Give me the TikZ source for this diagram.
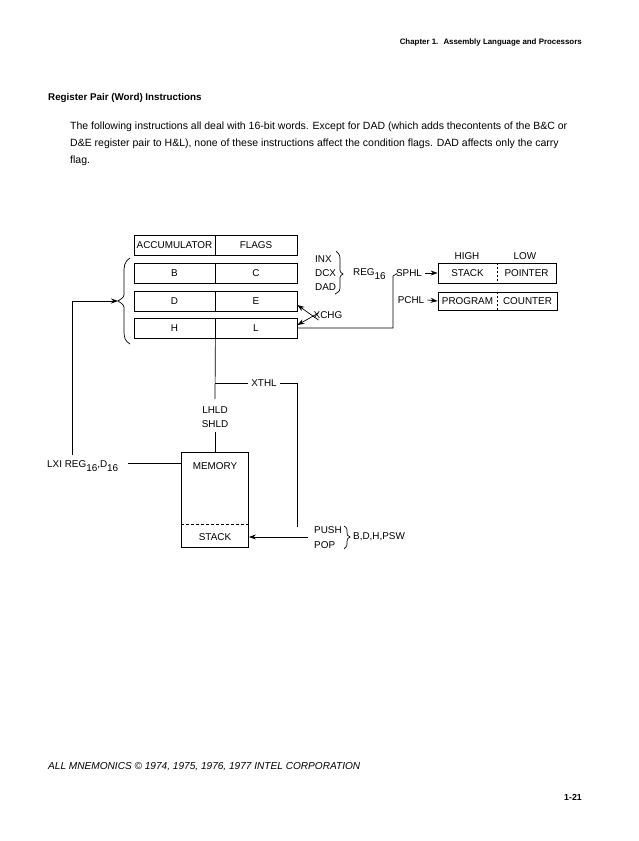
\documentclass[tikz,border=0pt]{standalone}
\usepackage{fontspec}
\setmainfont{Liberation Sans}
\usetikzlibrary{arrows.meta}
\begin{document}
\begin{tikzpicture}[x=1pt,y=-1pt,
  base/.style={inner sep=0pt,font=\fontsize{9.9}{11}\selectfont},
  lbl/.style={base},
  cell/.style={base,draw,line width=0.8pt,minimum height=20pt},
  wire/.style={line width=0.7pt},
  arr/.style={wire,-{Stealth[length=7pt,width=5pt]}},
  para/.style={inner sep=0pt,anchor=west,font=\fontsize{10.5}{12}\selectfont}]
\fill[white] (0,0) rectangle (638,841);
\useasboundingbox (0,0) rectangle (638,841);
% page text
\node[inner sep=0pt,anchor=east,font=\fontsize{7.9}{9}\selectfont\bfseries] (hdr) at (582,42) {Chapter 1. \ Assembly Language and Processors};
\node[inner sep=0pt,anchor=west,font=\fontsize{9.8}{11}\selectfont\bfseries] (ttl) at (48,98) {Register Pair (Word) Instructions};
\node[para] (p1) at (70,127) {The following instructions all deal with 16-bit words. Except for DAD (which adds thecontents of the B\&C or};
\node[para] (p2) at (70,144) {D\&E register pair to H\&L), none of these instructions affect the condition flags. DAD affects only the carry};
\node[para] (p3) at (70,161) {flag.};
\node[inner sep=0pt,anchor=west,font=\fontsize{10.1}{12}\selectfont\itshape] (ftr) at (48,767) {ALL MNEMONICS \textcopyright\ 1974, 1975, 1976, 1977 INTEL CORPORATION};
\node[inner sep=0pt,anchor=east,font=\fontsize{8.8}{10}\selectfont\bfseries] (pg) at (582,797) {1-21};
% register file
\node[cell,minimum width=81pt] (acc) at (174.5,245) {ACCUMULATOR};
\node[cell,minimum width=82pt] (flg) at (256,245) {FLAGS};
\node[cell,minimum width=81pt] (b) at (174.5,273) {B};
\node[cell,minimum width=82pt] (c) at (256,273) {C};
\node[cell,minimum width=81pt] (d) at (174.5,301) {D};
\node[cell,minimum width=82pt] (e) at (256,301) {E};
\node[cell,minimum width=81pt] (h) at (174.5,328) {H};
\node[cell,minimum width=82pt] (l) at (256,328) {L};
% left brace
\draw[wire] (130,258) .. controls (124,262) and (124,266) .. (124,274) -- (124,292) .. controls (124,297) .. (118,301) .. controls (124,305) .. (124,310) -- (124,330) .. controls (124,338) and (125,341) .. (130,344);
\coordinate (bt) at (118,301);
\coordinate (lv) at (72,455);
\draw[arr] (lv) -- (72,301) -- (bt);
% INX DCX DAD
\node[lbl,anchor=west] (inx) at (315,259) {INX};
\node[lbl,anchor=west] (dcx) at (315,273) {DCX};
\node[lbl,anchor=west] (dad) at (315,287) {DAD};
\draw[wire] (336,251) .. controls (340,255) .. (340,262) -- (340,268) .. controls (340,272) .. (343,274) .. controls (340,276) .. (340,280) -- (340,285) .. controls (340,291) .. (335,294);
\node[lbl,anchor=west] (reg) at (353,274) {REG\raisebox{-3.5pt}{16}};
% XCHG
\node[lbl] (xchg) at (328,315) {XCHG};
\draw[arr] ([shift={(5,5)}]xchg.west) -- ([yshift=-4pt]e.east);
\draw[arr] ([shift={(5,-2)}]xchg.west) -- ([yshift=3pt]l.east);
% SPHL / PCHL
\node[lbl] (sphl) at (409,273) {SPHL};
\node[lbl] (pchl) at (411,300) {PCHL};
\draw[wire] (l.east) -- (393,328) -- (393,276) -- (397,273.5);
\node[draw,line width=0.8pt,minimum width=118pt,minimum height=20pt,inner sep=0pt] (spbox) at (497,273) {};
\draw[wire,dashed,dash pattern=on 2.5pt off 1.5pt] (spbox.north) -- (spbox.south);
\node[lbl] (stk) at (467.5,273) {STACK};
\node[lbl] (ptr) at (526.5,273) {POINTER};
\node[draw,line width=0.8pt,minimum width=119pt,minimum height=18pt,inner sep=0pt] (pcbox) at (497.5,301) {};
\draw[wire,dashed,dash pattern=on 2.5pt off 1.5pt] (pcbox.north) -- (pcbox.south);
\node[lbl] (prg) at (467.5,301) {PROGRAM};
\node[lbl] (cnt) at (527.5,301) {COUNTER};
\node[lbl] (high) at (467,256) {HIGH};
\node[lbl] (low) at (525,256) {LOW};
\draw[arr] (sphl.east) ++(3,0) -- (spbox.west);
\draw[arr] (pchl.east) ++(3,0) -- (pcbox.west);
% H/L down to memory
\node[lbl] (lhld) at (215,410) {LHLD};
\node[lbl] (shld) at (215,424) {SHLD};
\coordinate (xt) at (215,383);
\draw[wire] (h.south east) -- (215,399);
\node[lbl] (xthl) at (264,383) {XTHL};
\draw[wire] (xt) -- ([xshift=-3pt]xthl.west);
\coordinate (xd) at (297,527);
\draw[wire] ([xshift=3pt]xthl.east) -- (297,383) -- (xd);
% memory
\node[draw,line width=0.8pt,minimum width=67pt,minimum height=95pt,inner sep=0pt] (mem) at (215,499.5) {};
\draw[wire] (215,432) -- (mem.north);
\draw[wire,dashed,dash pattern=on 3pt off 2pt] (mem.west |- 0,524) -- (mem.east |- 0,524);
\node[lbl] (memt) at (215,466) {MEMORY};
\node[lbl] (stkm) at (215,537) {STACK};
\node[lbl,anchor=west] (lxi) at (47,466) {LXI REG\raisebox{-3.5pt}{16},D\raisebox{-3.5pt}{16}};
\draw[wire] (128,463) -- (mem.west |- 0,463);
% push pop
\node[lbl,anchor=west] (push) at (314,530) {PUSH};
\node[lbl,anchor=west] (pop) at (314,545) {POP};
\coordinate (pp) at (308,537);
\draw[arr] (pp) -- (mem.east |- pp);
\draw[wire] (344,526) .. controls (347,528) .. (347,532) .. controls (347,535) .. (350,537) .. controls (347,539) .. (347,542) .. controls (347,546) .. (344,549);
\node[lbl,anchor=west] (bdh) at (353,537) {B,D,H,PSW};
\end{tikzpicture}
\end{document}
